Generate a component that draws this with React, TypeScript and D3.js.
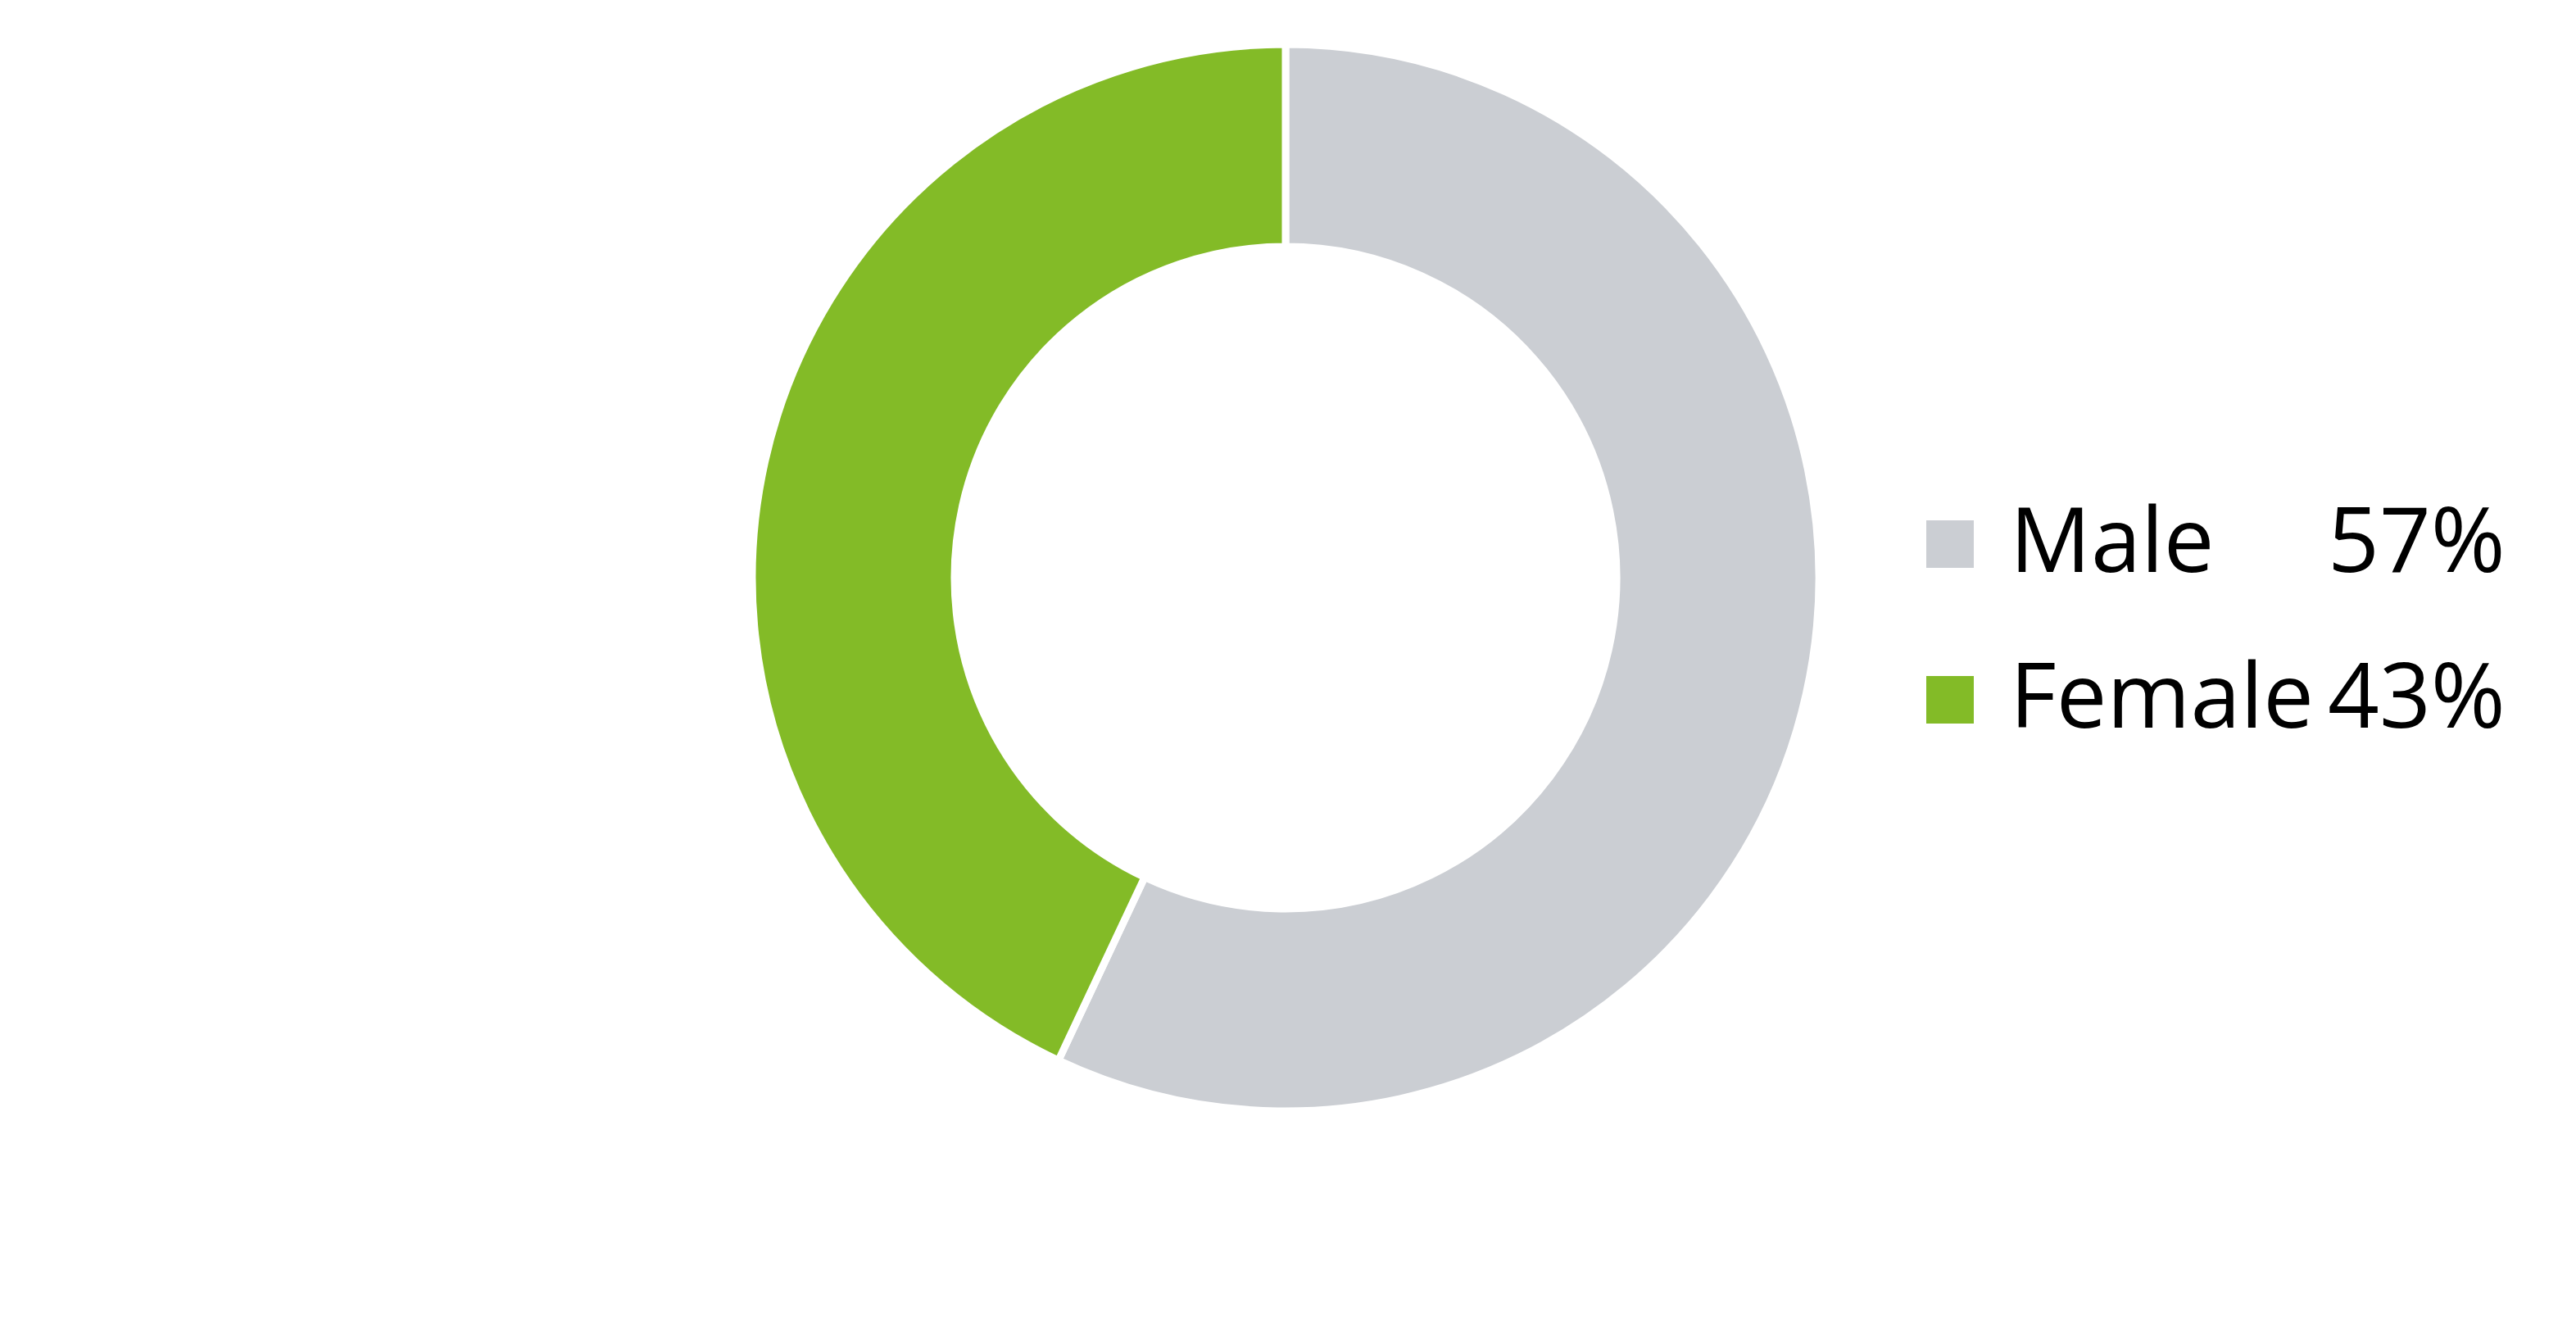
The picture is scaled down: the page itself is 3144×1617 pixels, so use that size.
import React from 'react';
import { pie, arc, scaleOrdinal, PieArcDatum } from 'd3';

// chart data
const categories = ['Male', 'Female'];
const shares = [57, 43];
const colours = ['#cbced3', '#83bb27'];

const WIDTH = 3144;
const HEIGHT = 1617;
const cx = 1569;
const cy = 705;
const outerR = 651;
const innerR = 404;

type Slice = { name: string; value: number };

const App = () => {
  const data: Slice[] = categories.map((name, i) => ({ name, value: shares[i] }));

  const colour = scaleOrdinal<string, string>().domain(categories).range(colours);

  const pieGen = pie<Slice>()
    .sort(null)
    .value((d) => d.value);

  const arcGen = arc<PieArcDatum<Slice>>().innerRadius(innerR).outerRadius(outerR);

  const arcs = pieGen(data);

  return (
    <svg
      width={WIDTH}
      height={HEIGHT}
      style={{ position: 'absolute', left: 0, top: 0, background: '#fff' }}
      fontFamily="'Open Sans', sans-serif"
    >
      <g transform={`translate(${cx},${cy})`}>
        {arcs.map((a) => (
          <path
            key={a.data.name}
            d={arcGen(a) || ''}
            fill={colour(a.data.name)}
            stroke="#fff"
            strokeWidth={9}
          />
        ))}
      </g>
      {/* legend */}
      <g transform="translate(2351,635)">
        {data.map((d, i) => (
          <g key={d.name} transform={`translate(0,${i * 190})`}>
            <rect width={58} height={58} fill={colour(d.name)} />
            <text x={102} y={63} fontSize={110} fill="#000">
              {d.name}
            </text>
            <text x={490} y={63} fontSize={110} fill="#000">
              {`${d.value}%`}
            </text>
          </g>
        ))}
      </g>
    </svg>
  );
};

export default App;
